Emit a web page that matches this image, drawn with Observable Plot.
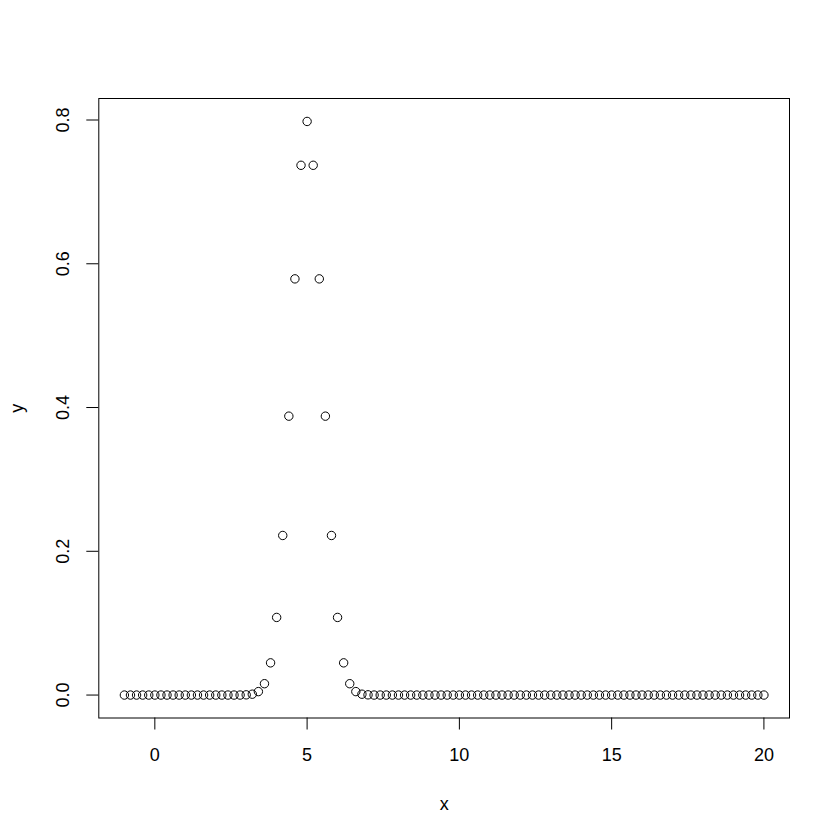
<!DOCTYPE html>
<html>
<head>
<meta charset="utf-8">
<script src="https://cdn.jsdelivr.net/npm/d3@7"></script>
<script src="https://cdn.jsdelivr.net/npm/@observablehq/plot@0.6"></script>
<style>
  html, body { margin: 0; padding: 0; background: #fff; }
  svg { display: block; }
</style>
</head>
<body>
<div id="chart"></div>
<script>
const xs = [
  -1,-0.8,-0.6,-0.4,-0.2,0,0.2,0.4,0.6,0.8,
  1,1.2,1.4,1.6,1.8,2,2.2,2.4,2.6,2.8,
  3,3.2,3.4,3.6,3.8,4,4.2,4.4,4.6,4.8,
  5,5.2,5.4,5.6,5.8,6,6.2,6.4,6.6,6.8,
  7,7.2,7.4,7.6,7.8,8,8.2,8.4,8.6,8.8,
  9,9.2,9.4,9.6,9.8,10,10.2,10.4,10.6,10.8,
  11,11.2,11.4,11.6,11.8,12,12.2,12.4,12.6,12.8,
  13,13.2,13.4,13.6,13.8,14,14.2,14.4,14.6,14.8,
  15,15.2,15.4,15.6,15.8,16,16.2,16.4,16.6,16.8,
  17,17.2,17.4,17.6,17.8,18,18.2,18.4,18.6,18.8,
  19,19.2,19.4,19.6,19.8,
  20
];
const ys = [
  0,0,0,0,0,0,0,0,0,0,
  0,0,0,0,0,0,0,0,0,0,
  0.0003,0.0012,0.0048,0.0158,0.0448,0.108,0.222,0.388,0.579,0.737,
  0.798,0.737,0.579,0.388,0.222,0.108,0.0448,0.0158,0.0048,0.0012,
  0.0003,0,0,0,0,0,0,0,0,0,
  0,0,0,0,0,0,0,0,0,0,
  0,0,0,0,0,0,0,0,0,0,
  0,0,0,0,0,0,0,0,0,0,
  0,0,0,0,0,0,0,0,0,0,
  0,0,0,0,0,0,0,0,0,0,
  0,0,0,0,0,
  0
];
const xTicks = [0, 5, 10, 15, 20];
const yTicks = [0.0, 0.2, 0.4, 0.6, 0.8];
const yTickLabels = ["0.0", "0.2", "0.4", "0.6", "0.8"];
const xTitle = "x";
const yTitle = "y";

const points = xs.map((x, i) => ({x, y: ys[i]}));
const font = "Liberation Sans, Arial, sans-serif";

const chart = Plot.plot({
  width: 840,
  height: 840,
  marginLeft: 98.3,
  marginRight: 51,
  marginTop: 98,
  marginBottom: 122.5,
  style: {fontFamily: font, fontSize: "18px", background: "#fff", color: "#000"},
  x: {domain: [-1.84, 20.84]},
  y: {domain: [-0.03192, 0.82992]},
  marks: [
    Plot.frame({stroke: "#000", strokeWidth: 1}),
    Plot.axisX(xTicks, {tickSize: 12, tickPadding: 18, stroke: "#000", strokeWidth: 1, fontSize: 18, label: null}),
    Plot.axisY(yTicks, {tickSize: 12, text: null, stroke: "#000", strokeWidth: 1, label: null}),
    Plot.text(yTicks, {
      y: d => d, frameAnchor: "left", dx: -36,
      text: (d, i) => yTickLabels[i], rotate: -90,
      textAnchor: "middle", lineAnchor: "middle", fontSize: 18, fill: "#000"
    }),
    Plot.text([xTitle], {frameAnchor: "bottom", dy: 86, text: d => d, lineAnchor: "middle", fontSize: 18, fill: "#000"}),
    Plot.text([yTitle], {frameAnchor: "left", dx: -82, text: d => d, rotate: -90, lineAnchor: "middle", textAnchor: "middle", fontSize: 18, fill: "#000"}),
    Plot.dot(points, {x: "x", y: "y", r: 4.2, stroke: "#000", strokeWidth: 1, fill: "none"})
  ]
});
document.getElementById("chart").appendChild(chart);
</script>
</body>
</html>
